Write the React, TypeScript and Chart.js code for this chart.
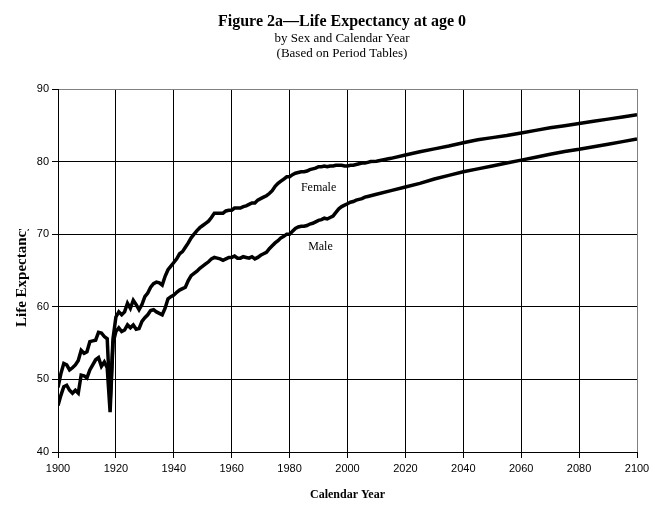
import React, { useEffect, useRef } from "react";
import { Chart, registerables } from "chart.js";

Chart.register(...registerables);

// Period life expectancy at birth, one value per calendar year from 1900 through 2008
const historyStartYear = 1900;

const femaleHistory = [
  48.9, 50.8, 52.2, 52.0, 51.3, 51.6, 52.0, 52.6, 54.0, 53.6,
  53.8, 55.2, 55.3, 55.4, 56.5, 56.4, 55.9, 55.6, 46.8, 55.6,
  58.6, 59.3, 58.9, 59.3, 60.5, 59.8, 60.9, 60.3, 59.6, 60.3,
  61.4, 61.9, 62.7, 63.2, 63.4, 63.3, 63.0, 64.2, 65.1, 65.6,
  66.1, 66.6, 67.3, 67.6, 68.2, 68.8, 69.5, 70.0, 70.5, 70.9,
  71.2, 71.5, 71.8, 72.3, 72.9, 72.9, 72.9, 72.9, 73.2, 73.3,
  73.3, 73.6, 73.6, 73.6, 73.8, 73.9, 74.1, 74.3, 74.3, 74.7,
  74.9, 75.1, 75.3, 75.6, 76.0, 76.6, 77.0, 77.3, 77.6, 77.9,
  77.9, 78.2, 78.4, 78.5, 78.6, 78.6, 78.7, 78.9, 79.0, 79.1,
  79.3, 79.3, 79.4, 79.3, 79.4, 79.4, 79.5, 79.5, 79.5, 79.4,
  79.4, 79.5, 79.5, 79.6, 79.7, 79.8, 79.8, 79.9, 80.0,
];

const maleHistory = [
  46.4, 47.8, 49.0, 49.2, 48.5, 48.1, 48.5, 48.1, 50.6, 50.5,
  50.2, 51.3, 52.0, 52.7, 53.0, 51.8, 52.4, 51.6, 45.5, 55.0,
  56.6, 57.1, 56.6, 56.8, 57.5, 57.1, 57.5, 56.9, 57.0, 58.0,
  58.5, 58.9, 59.5, 59.6, 59.3, 59.1, 58.9, 59.8, 61.1, 61.4,
  61.6, 62.0, 62.3, 62.5, 62.7, 63.6, 64.3, 64.6, 64.9, 65.3,
  65.6, 65.9, 66.2, 66.6, 66.8, 66.7, 66.6, 66.4, 66.6, 66.8,
  66.8, 67.0, 66.7, 66.7, 66.9, 66.8, 66.7, 66.9, 66.6, 66.8,
  67.1, 67.3, 67.5, 68.0, 68.4, 68.8, 69.1, 69.5, 69.7, 70.0,
  70.0, 70.4, 70.8, 71.0, 71.1, 71.1, 71.2, 71.4, 71.5, 71.7,
  71.9, 72.0, 72.2, 72.1, 72.3, 72.5, 73.0, 73.5, 73.8, 74.0,
  74.2, 74.4, 74.5, 74.7, 74.8, 74.9, 75.1, 75.2, 75.3,
];

// Projected values
const projectionYears = [
  2010, 2015, 2020, 2025, 2030, 2035, 2040, 2045, 2050, 2055,
  2060, 2065, 2070, 2075, 2080, 2085, 2090, 2095, 2100,
];
const femaleProjection = [
  80.05, 80.45, 80.9, 81.35, 81.75, 82.15, 82.6, 83.0, 83.3, 83.6,
  83.95, 84.3, 84.65, 84.95, 85.25, 85.55, 85.85, 86.15, 86.45,
];
const maleProjection = [
  75.5, 76.0, 76.5, 77.0, 77.6, 78.1, 78.6, 79.0, 79.4, 79.8,
  80.2, 80.6, 81.0, 81.4, 81.7, 82.05, 82.4, 82.75, 83.1,
];

const xTicks = [1900, 1920, 1940, 1960, 1980, 2000, 2020, 2040, 2060, 2080, 2100];
const yTicks = [40, 50, 60, 70, 80, 90];

const titleLines = [
  "Figure 2a\u2014Life Expectancy at age 0",
  "by Sex and Calendar Year",
  "(Based on Period Tables)",
];
const xAxisTitle = "Calendar Year";
const yAxisTitle = "Life Expectancy";
const seriesLabels = [
  { text: "Female", year: 1983.9, value: 75.95 },
  { text: "Male", year: 1986.4, value: 67.8 },
];

const SERIF = '"Liberation Serif", "Times New Roman", Times, serif';
const SANS = '"Liberation Sans", Arial, sans-serif';

function toPoints(start: number, history: number[], projYears: number[], proj: number[]) {
  const pts = history.map((v, i) => ({ x: start + i, y: v }));
  return pts.concat(projYears.map((yr, i) => ({ x: yr, y: proj[i] })));
}

const figureText = {
  id: "figureText",
  afterDraw(chart: any) {
    const ctx = chart.ctx as CanvasRenderingContext2D;
    const xs = chart.scales.x;
    const ys = chart.scales.y;
    ctx.save();
    ctx.fillStyle = "#000";
    ctx.textBaseline = "alphabetic";
    ctx.textAlign = "center";

    ctx.font = `bold 16px ${SERIF}`;
    ctx.fillText(titleLines[0], 342, 26);
    ctx.font = `13px ${SERIF}`;
    ctx.fillText(titleLines[1], 342, 42);
    ctx.fillText(titleLines[2], 342, 57);

    ctx.font = `bold 12px ${SERIF}`;
    ctx.fillText(xAxisTitle, (chart.chartArea.left + chart.chartArea.right) / 2, 498);

    // series captions
    ctx.textAlign = "left";
    ctx.font = `12px ${SERIF}`;
    for (const s of seriesLabels) {
      ctx.fillText(s.text, xs.getPixelForValue(s.year), ys.getPixelForValue(s.value));
    }

    // vertical axis title, cut off at the top of its box
    ctx.save();
    ctx.beginPath();
    ctx.rect(0, 229, 50, 200);
    ctx.clip();
    ctx.translate(22, 327);
    ctx.rotate(-Math.PI / 2);
    ctx.textAlign = "left";
    ctx.textBaseline = "middle";
    ctx.font = `bold 15px ${SERIF}`;
    ctx.fillText(yAxisTitle, 0, 0);
    ctx.restore();

    ctx.restore();
  },
};

export default function App() {
  const canvasRef = useRef<HTMLCanvasElement | null>(null);

  useEffect(() => {
    const canvas = canvasRef.current;
    if (!canvas) return;
    const chart = new Chart(canvas, {
      type: "line",
      data: {
        datasets: [
          {
            label: "Female",
            data: toPoints(historyStartYear, femaleHistory, projectionYears, femaleProjection),
            borderColor: "#000",
            borderWidth: 3.5,
            pointRadius: 0,
            tension: 0,
            fill: false,
          },
          {
            label: "Male",
            data: toPoints(historyStartYear, maleHistory, projectionYears, maleProjection),
            borderColor: "#000",
            borderWidth: 3.5,
            pointRadius: 0,
            tension: 0,
            fill: false,
          },
        ],
      },
      options: {
        animation: false,
        responsive: false,
        devicePixelRatio: 1,
        parsing: false,
        layout: { padding: { top: 89, right: 27, left: 0, bottom: 0 } },
        plugins: {
          legend: { display: false },
          tooltip: { enabled: false },
          title: { display: false },
        },
        scales: {
          x: {
            type: "linear",
            min: 1900,
            max: 2100,
            afterFit: (scale: any) => {
              scale.height = 53;
            },
            afterBuildTicks: (scale: any) => {
              scale.ticks = xTicks.map((v) => ({ value: v }));
            },
            ticks: {
              color: "#000",
              padding: 4,
              maxRotation: 0,
              autoSkip: false,
              font: { family: SANS, size: 11 },
              callback: (v: any) => String(v),
            },
            grid: {
              color: (c: any) => (c.tick && c.tick.value === 2100 ? "#808080" : "#000"),
              tickColor: "#000",
              tickLength: 6,
              lineWidth: 1,
            },
            border: { display: true, color: "#000", width: 1 },
          },
          y: {
            type: "linear",
            min: 40,
            max: 90,
            afterFit: (scale: any) => {
              scale.width = 58;
            },
            afterBuildTicks: (scale: any) => {
              scale.ticks = yTicks.map((v) => ({ value: v }));
            },
            ticks: {
              color: "#000",
              padding: 3,
              font: { family: SANS, size: 11 },
              callback: (v: any) => String(v),
            },
            grid: {
              color: (c: any) => (c.tick && c.tick.value === 90 ? "#808080" : "#000"),
              tickColor: "#000",
              tickLength: 6,
              lineWidth: 1,
            },
            border: { display: true, color: "#000", width: 1 },
          },
        },
      },
      plugins: [figureText],
    });
    return () => chart.destroy();
  }, []);

  return (
    <div style={{ position: "absolute", left: 0, top: 0, width: 664, height: 505, background: "#fff" }}>
      <canvas ref={canvasRef} width={664} height={505} style={{ display: "block" }} />
    </div>
  );
}
